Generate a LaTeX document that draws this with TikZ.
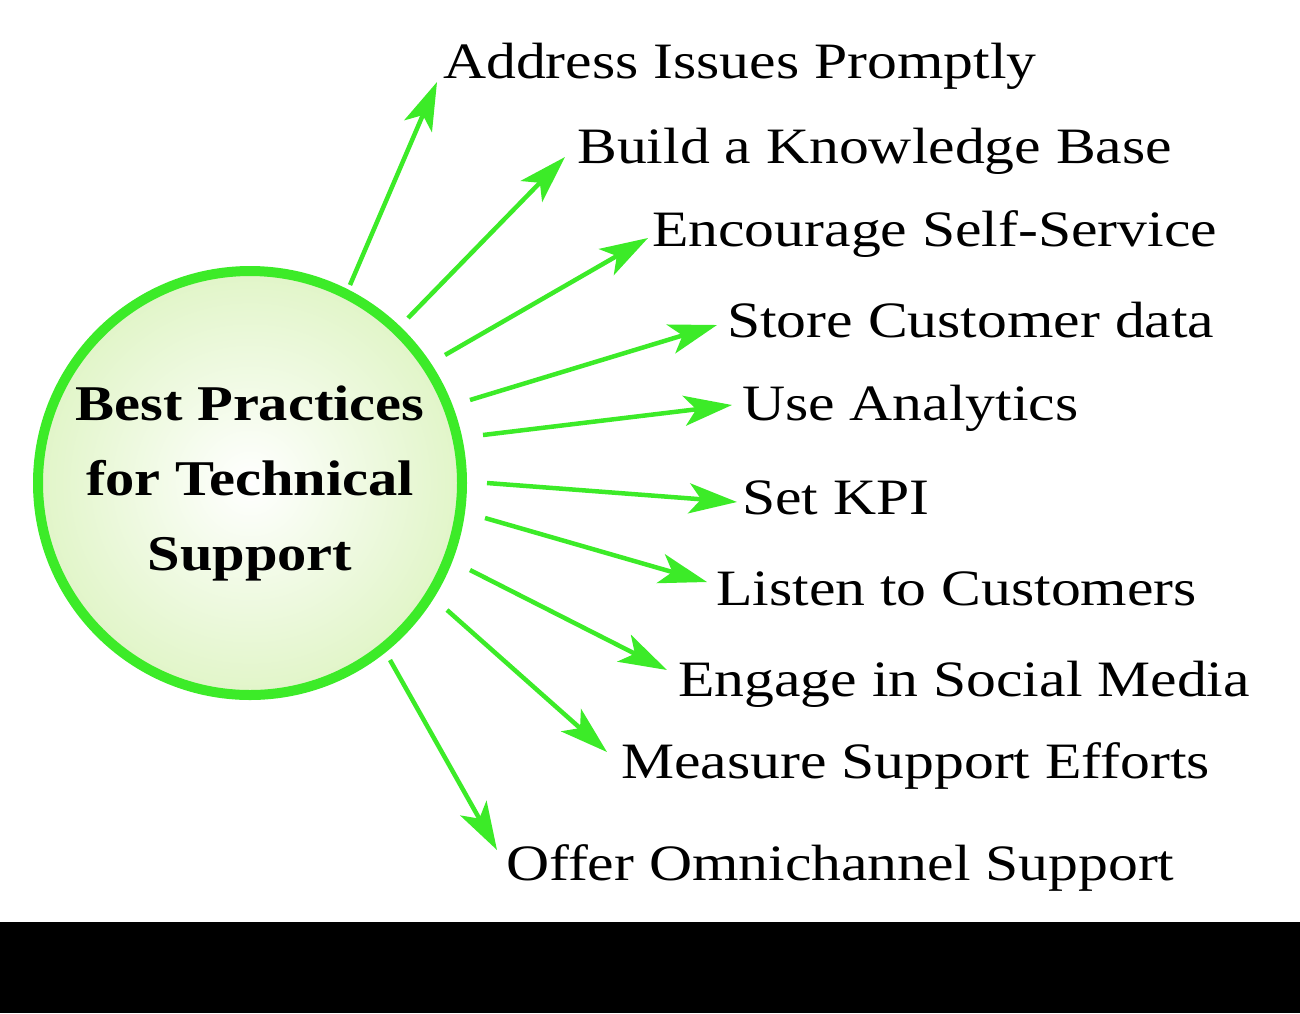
\documentclass[tikz,border=0pt]{standalone}
\usepackage{fontspec}
\setmainfont{Liberation Serif}[FakeStretch=1.17]
\usetikzlibrary{arrows.meta}
\definecolor{lg}{RGB}{60,235,40}
\definecolor{pale}{RGB}{225,245,200}
\begin{document}
\begin{tikzpicture}[x=1pt,y=-1pt,
  arr/.style={draw=lg,line width=4.5pt,-{Stealth[length=48pt,width=30pt,inset=12pt]}},
  lab/.style={anchor=base west,font=\fontsize{51}{51}\selectfont,inner sep=0pt}]
\useasboundingbox (0,0) rectangle (1300,1013);
\fill[black] (0,922) rectangle (1300,1013);
\shade[inner color=white,outer color=pale] (250,483) circle (212);
\node[draw=lg,line width=10pt,circle,minimum size=424pt] (c) at (250,483) {};
\node[align=center,font=\bfseries\fontsize{50}{75}\selectfont] (t) at (250,483) {Best Practices\\for Technical\\Support};
\node[lab] (l1) at (443,78) {Address Issues Promptly};
\node[lab] (l2) at (577,163) {Build a Knowledge Base};
\node[lab] (l3) at (652,246) {Encourage Self-Service};
\node[lab] (l4) at (727,337) {Store Customer data};
\node[lab] (l5) at (742,420) {Use Analytics};
\node[lab] (l6) at (742,514) {Set KPI};
\node[lab] (l7) at (716,605) {Listen to Customers};
\node[lab] (l8) at (678,696) {Engage in Social Media};
\node[lab] (l9) at (621,778) {Measure Support Efforts};
\node[lab] (l10) at (506,880) {Offer Omnichannel Support};
\foreach \i/\sx/\sy/\ex/\ey in {1/350/285/437/82, 2/408/318/565/157, 3/445/355/648/238,
  4/470/400/717/325, 5/483/435/732/405, 6/487/483/737/502, 7/485/518/707/582,
  8/470/570/667/670, 9/447/610/607/752, 10/390/660/497/850}{
  \coordinate (s\i) at (\sx,\sy);
  \coordinate (e\i) at (\ex,\ey);
  \draw[arr] (s\i) -- (e\i);
}
\end{tikzpicture}
\end{document}
